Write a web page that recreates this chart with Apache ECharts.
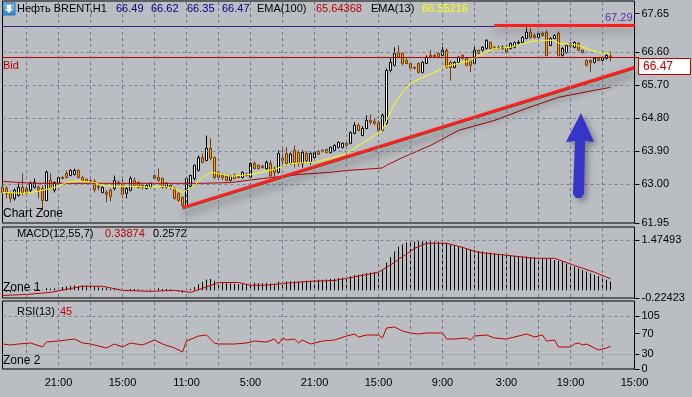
<!DOCTYPE html>
<html><head><meta charset="utf-8">
<script src="https://cdn.jsdelivr.net/npm/echarts@6/dist/echarts.min.js"></script>
<style>html,body{margin:0;padding:0;background:#babec3;}#c{width:692px;height:397px;}</style>
</head><body><div id="c"></div>
<script>
const timeLabels = ['21:00','15:00','11:00','5:00','21:00','15:00','9:00','3:00','19:00','15:00'];
const opens = [62.92,62.89,62.76,62.62,62.70,62.92,62.89,62.84,62.92,62.92,
62.89,62.56,63.11,62.84,63.03,63.19,63.30,63.24,63.27,63.38,
63.19,63.14,63.11,63.08,62.95,62.78,62.78,62.84,62.89,63.05,
63.00,62.76,62.84,63.11,63.05,62.97,62.89,62.92,63.24,63.19,
63.16,62.92,62.97,62.89,62.76,62.65,62.43,62.95,63.16,63.38,
63.73,63.65,63.98,63.73,63.33,63.24,63.22,63.11,63.24,63.22,
63.19,63.27,63.19,63.57,63.52,63.49,63.43,63.57,63.43,63.33,
63.71,63.84,63.57,63.93,63.87,63.57,63.84,63.60,63.73,63.90,
63.93,63.95,63.87,63.93,64.01,64.01,64.12,64.12,64.39,64.61,
64.33,64.52,64.74,64.71,64.69,64.47,64.66,66.10,66.24,66.59,
66.56,66.37,66.29,66.18,66.29,66.05,66.29,66.51,66.51,66.56,
66.51,66.65,66.32,66.18,66.32,66.51,66.43,66.37,66.29,66.65,
66.65,66.70,66.86,66.73,66.73,66.70,66.73,66.70,66.73,66.84,
66.86,66.97,67.14,67.05,67.00,67.11,67.14,66.78,66.97,67.11,
66.51,66.59,66.84,66.73,66.84,66.65,66.37,66.37,66.32,66.43,
66.37,66.43,66.49];
const closes = [62.78,62.76,62.62,62.84,62.92,62.78,62.76,63.03,63.05,62.84,
62.56,63.33,62.89,63.05,63.19,63.16,63.19,63.38,63.38,63.19,
63.11,63.08,63.08,62.86,62.92,62.92,62.73,62.67,63.11,63.00,
62.73,62.89,63.16,62.97,62.92,62.92,62.97,63.03,63.16,63.11,
62.92,63.03,62.92,62.62,62.56,62.43,63.16,63.24,63.52,63.73,
63.60,63.98,63.71,63.19,63.19,63.19,63.11,63.22,63.16,63.19,
63.33,63.24,63.57,63.43,63.43,63.46,63.60,63.24,63.33,63.84,
63.65,63.57,63.82,63.60,63.57,63.87,63.65,63.84,63.87,63.82,
63.90,63.87,64.01,64.06,64.14,64.12,64.06,64.41,64.61,64.47,
64.52,64.74,64.69,64.66,64.47,64.88,66.10,66.32,66.56,66.46,
66.29,66.29,66.16,66.16,66.05,66.32,66.46,66.46,66.48,66.46,
66.65,66.18,66.18,66.32,66.46,66.43,66.24,66.24,66.65,66.56,
66.73,66.92,66.70,66.70,66.70,66.73,66.59,66.84,66.86,66.86,
67.00,67.14,67.00,67.00,67.11,67.05,66.51,66.97,67.05,66.51,
66.70,66.78,66.76,66.86,66.65,66.59,66.24,66.32,66.43,66.37,
66.46,66.51,66.47];
const lows = [62.73,62.62,62.51,62.56,62.67,62.70,62.70,62.78,62.89,62.62,
62.29,62.54,62.86,62.78,63.00,63.14,63.16,63.22,63.24,63.16,
63.08,63.05,63.05,62.78,62.84,62.76,62.51,62.54,62.84,62.95,
62.62,62.62,62.81,62.95,62.89,62.86,62.86,62.89,63.14,63.08,
62.89,62.89,62.86,62.59,62.54,62.37,62.37,62.89,63.11,63.35,
63.57,63.63,63.65,63.14,63.11,63.11,63.08,63.08,63.14,63.16,
63.16,63.22,63.16,63.41,63.41,63.43,63.41,63.19,63.19,63.30,
63.52,63.49,63.54,63.46,63.49,63.46,63.57,63.54,63.71,63.79,
63.87,63.84,63.84,63.90,63.98,63.98,64.03,64.09,64.36,64.44,
64.31,64.50,64.63,64.61,64.41,64.44,64.63,66.05,66.21,66.43,
66.24,66.27,66.10,66.13,66.02,66.02,66.27,66.43,66.46,66.43,
66.48,66.16,65.83,66.16,66.29,66.40,66.21,66.05,66.27,66.54,
66.62,66.67,66.67,66.67,66.67,66.67,66.56,66.67,66.70,66.81,
66.84,66.95,66.97,66.97,66.97,67.03,66.48,66.76,66.95,66.48,
66.48,66.56,66.70,66.70,66.62,66.56,66.21,66.05,66.29,66.35,
66.35,66.40,66.35];
const highs = [62.97,62.95,62.81,62.89,63.03,63.30,62.95,63.08,63.16,62.97,
62.97,63.38,63.30,63.08,63.22,63.22,63.38,63.41,63.43,63.41,
63.22,63.16,63.14,63.14,63.03,62.95,62.84,62.89,63.24,63.11,
63.16,62.92,63.22,63.19,63.08,63.03,63.00,63.05,63.27,63.43,
63.19,63.05,63.00,62.92,62.78,62.67,63.19,63.27,63.54,63.79,
63.84,64.33,64.25,63.76,63.38,63.30,63.27,63.24,63.30,63.24,
63.35,63.33,63.60,63.63,63.54,63.54,63.65,63.65,63.49,63.93,
63.98,64.01,63.87,64.06,63.93,63.93,63.90,63.87,63.90,63.93,
63.95,63.98,64.03,64.09,64.17,64.14,64.17,64.44,64.69,64.66,
64.58,64.88,64.90,64.80,64.74,64.93,66.16,66.43,66.73,66.78,
66.59,66.43,66.32,66.21,66.32,66.35,66.51,66.65,66.54,66.59,
66.84,66.70,66.37,66.35,66.48,66.54,66.46,66.40,66.78,66.67,
66.76,66.95,66.89,66.76,66.78,66.78,66.76,66.86,66.89,66.92,
67.03,67.27,67.25,67.11,67.16,67.16,67.19,67.00,67.08,67.16,
66.73,66.81,66.86,66.89,66.86,66.67,66.40,66.40,66.46,66.46,
66.48,66.56,66.62];
const ema13 = [[0,62.78],[5,62.76],[7,62.78],[10,62.84],[13,62.92],[16,63.05],[19,63.10],[23,63.05],[25,62.97],[28,62.95],[33,62.95],[37,62.92],[40,62.95],[43,62.89],[45,62.78],[48,62.97],[50,63.19],[52,63.33],[54,63.30],[57,63.22],[62,63.27],[68,63.41],[72,63.57],[78,63.60],[82,63.71],[86,63.84],[89,64.06],[93,64.33],[95,64.47],[96,64.74],[98,65.20],[100,65.50],[102,65.75],[105,65.91],[109,66.10],[111,66.21],[114,66.29],[117,66.37],[119,66.51],[123,66.70],[127,66.73],[131,66.86],[134,66.92],[138,66.92],[139,66.84],[142,66.81],[144,66.78],[146,66.70],[149,66.59],[152,66.55]];
const ema100 = [[0,63.08],[8,63.03],[25,63.03],[41,63.03],[50,63.03],[57,63.05],[65,63.16],[72,63.24],[74,63.27],[82,63.33],[86,63.38],[93,63.43],[95,63.45],[96,63.52],[100,63.73],[107,64.06],[114,64.47],[123,64.74],[131,65.07],[139,65.37],[148,65.56],[152,65.64]];
const macdHist = [-0.06,-0.05,-0.06,-0.04,-0.02,-0.03,-0.02,
0.02,0.04,0.03,0.01,0.06,0.05,0.06,0.08,
0.10,0.11,0.13,0.14,0.13,
0.14,0.14,0.13,0.11,0.09,
0.08,0.06,0.04,0.05,
0.05,0.03,0.02,0.04,0.04,0.03,0.02,0.02,0.03,
0.05,0.06,0.04,0.04,0.03,0.00,
-0.03,-0.06,-0.02,0.04,0.10,0.18,
0.25,0.32,0.33,0.28,
0.25,0.23,0.21,0.20,0.19,0.18,
0.18,0.18,0.21,0.22,0.21,0.21,0.22,0.20,
0.20,0.25,0.26,0.26,0.27,0.27,0.26,
0.27,0.28,0.28,0.30,0.31,0.31,0.32,0.33,0.34,0.36,0.37,0.37,
0.41,0.45,0.46,0.48,0.51,0.52,0.53,0.52,
0.60,0.82,0.98,1.15,1.28,
1.35,1.40,1.42,1.43,1.44,1.44,1.44,1.44,1.43,1.43,1.42,
1.38,1.35,1.32,1.29,1.27,
1.24,1.20,1.18,1.16,1.14,
1.12,1.10,1.08,1.07,1.06,
1.04,1.02,1.01,1.00,0.99,
0.99,0.98,0.97,0.96,0.95,0.93,0.92,
0.89,0.86,0.83,
0.78,0.74,0.70,
0.65,0.60,0.55,
0.50,0.46,0.42,
0.36,0.31,0.26];
const macdSignal = [[0,-0.15],[6,-0.12],[12,-0.06],[20,0.12],[25,0.12],[30,0.0],[37,-0.03],[43,0.0],[47,-0.06],[50,0.06],[54,0.23],[59,0.23],[62,0.15],[66,0.15],[70,0.2],[76,0.26],[83,0.29],[86,0.35],[94,0.53],[98,0.82],[103,1.23],[106,1.38],[111,1.38],[115,1.26],[119,1.11],[126,1.03],[133,0.94],[138,0.94],[143,0.73],[148,0.53],[152,0.34]];
const rsi = [[0,49.5],[2,47.5],[4,49.5],[7,51.5],[10,43.6],[11,53.5],[14,55.4],[18,59.4],[20,51.5],[22,49.5],[24,45.5],[26,41.6],[28,49.5],[30,43.6],[32,51.5],[35,47.5],[38,57.4],[40,49.5],[43,41.6],[45,33.7],[46,55.4],[49,65.3],[51,67.3],[53,51.5],[54,49.5],[58,49.5],[61,51.5],[63,55.4],[66,53.5],[68,59.4],[69,49.5],[70,61.4],[71,57.4],[73,59.4],[74,51.5],[75,57.4],[77,49.5],[80,55.4],[83,57.4],[86,65.3],[88,69.3],[89,63.4],[91,67.3],[94,67.3],[95,61.4],[96,81.2],[98,83.2],[100,75.2],[102,71.3],[104,69.3],[106,71.3],[110,71.3],[111,59.4],[113,59.4],[116,61.4],[117,57.4],[118,65.3],[121,67.3],[123,61.4],[126,59.4],[129,65.3],[131,69.3],[133,63.4],[135,67.3],[136,55.4],[138,57.4],[139,43.6],[142,43.6],[143,49.5],[144,51.5],[145,47.5],[146,49.5],[148,41.6],[149,37.6],[151,41.6],[152,45]];
const priceTicks = [61.95,63.00,63.90,64.80,65.70,66.60,67.65];
const priceGridLevels = [63.00,63.90,64.80,65.70,66.60];
const macdTicks = [-0.22423,1.47493];
const rsiTicks = [0,30,70,105];
const bidPrice = 66.47;
const levelPrice = 67.29;
const resistance = {from:123, to:158, price:67.32};
const trend = {from:[45,62.37], to:[158,66.18]};
const headerOHLC = ['66.49','66.62','66.35','66.47'];

const NCAT = 159;
const categories = Array.from({length:NCAT},(_,i)=>String(i));
const candles = opens.map((o,i)=>[o, closes[i], lows[i], highs[i]]);
const vGrid = [];
for (let i = 6; i < 158; i += 8) vGrid.push(i);
const FONT = '"Liberation Sans", Arial, sans-serif';
const GRIDC = '#7a8696';
const ranges = [[61.95, 67.99], [-0.22423, 1.8578], [0, 134.65]];
const GRID_LEFT = 2.5, GRID_W = 632;

const chart = echarts.init(document.getElementById('c'), null, {renderer:'canvas'});
function xAxisFor(gi){
  return {
    type:'category', gridIndex:gi, data:categories, boundaryGap:false,
    axisLine:{show:false}, axisTick:{show:false},
    axisLabel:{show: gi===2, interval:(i)=> i>=14 && (i-14)%16===0,
      formatter:(v,i)=> timeLabels[Math.round((i-14)/16)] || '',
      color:'#000', fontSize:11, fontFamily:FONT, margin:8},
    splitLine:{show:false}, splitArea:{show:false}
  };
}
function yAxisFor(gi, ticks, fmt){
  return {
    type:'value', gridIndex:gi, position:'right', min:ranges[gi][0], max:ranges[gi][1], scale:true,
    splitLine:{show:false}, splitArea:{show:false}, axisLine:{show:false},
    axisTick:{show:true, customValues:ticks, length:5, lineStyle:{color:'#000'}},
    axisLabel:{customValues:ticks, formatter:fmt, color:'#000', fontSize:11, fontFamily:FONT, margin:7}
  };
}
const noSym = {symbol:['none','none'], silent:true, animation:false};
function hLines(gi, levels){
  return {type:'line', xAxisIndex:gi, yAxisIndex:gi, data:[], z:1,
    markLine:Object.assign({}, noSym, {label:{show:false},
      lineStyle:{color:GRIDC, type:[3,3], width:1},
      data: levels})};
}
const txt = (x,y,t,fill,size)=>({type:'text', x:x, y:y, z:100, silent:true,
  style:{text:t, fill:fill||'#000', font:(size||11)+'px '+FONT, verticalAlign:'middle'}});

chart.setOption({
  animation:false,
  backgroundColor:'#babec3',
  grid:[
    {left:GRID_LEFT, top:1, width:GRID_W, height:222, show:true, borderColor:'#000', borderWidth:1, backgroundColor:'transparent'},
    {left:GRID_LEFT, top:227, width:GRID_W, height:71, show:true, borderColor:'#000', borderWidth:1, backgroundColor:'transparent'},
    {left:GRID_LEFT, top:301, width:GRID_W, height:68, show:true, borderColor:'#000', borderWidth:1, backgroundColor:'transparent'}
  ],
  xAxis:[xAxisFor(0), xAxisFor(1), xAxisFor(2)],
  yAxis:[
    yAxisFor(0, priceTicks, v=>v.toFixed(2)),
    yAxisFor(1, macdTicks, v=>v.toFixed(5)),
    yAxisFor(2, rsiTicks, v=>String(Math.round(v)))
  ],
  series:[
    hLines(0, priceGridLevels.map(v=>({yAxis:v}))),
    {type:'candlestick', xAxisIndex:0, yAxisIndex:0, data:candles, barWidth:3, z:3,
      itemStyle:{color:'#ffffff', color0:'#f0a30a', borderColor:'#000000', borderColor0:'#7a3a08', borderWidth:1}},
    {type:'line', xAxisIndex:0, yAxisIndex:0, data:ema100, showSymbol:false, z:4,
      lineStyle:{color:'#b00000', width:1}},
    {type:'line', xAxisIndex:0, yAxisIndex:0, data:ema13, showSymbol:false, z:5,
      lineStyle:{color:'#ffff00', width:1}},
    {type:'line', xAxisIndex:0, yAxisIndex:0, data:[], z:6,
      markLine:Object.assign({}, noSym, {label:{show:false}, data:[
        {yAxis:levelPrice, lineStyle:{color:'#3a1c8c', width:1, type:'solid'},
          label:{show:true, position:'insideEndTop', formatter:'67.29', color:'#5a2bb0', fontSize:11, fontFamily:FONT, distance:[2,3]}},
        {yAxis:bidPrice, lineStyle:{color:'#c00000', width:1, type:'solid'}},
        [{coord:[trend.from[0], trend.from[1]-0.04], lineStyle:{color:'#1f7a1f', width:1, type:'solid'}},{coord:[trend.to[0], trend.to[1]-0.04]}],
        [{coord:trend.from, lineStyle:{color:'#ff1e1e', width:3, type:'solid', shadowColor:'rgba(0,0,0,0.45)', shadowBlur:8, shadowOffsetY:6}},{coord:trend.to}],
        [{coord:[resistance.from, resistance.price], lineStyle:{color:'#ff1e1e', width:3, type:'solid', shadowColor:'rgba(0,0,0,0.35)', shadowBlur:8, shadowOffsetY:5}},{coord:[resistance.to, resistance.price]}]
      ]})},
    hLines(1, [{yAxis:macdTicks[1]}]),
    {type:'bar', xAxisIndex:1, yAxisIndex:1, data:macdHist, barWidth:1, z:3, itemStyle:{color:'#000'}},
    {type:'line', xAxisIndex:1, yAxisIndex:1, data:macdSignal, showSymbol:false, z:4, lineStyle:{color:'#c00000', width:1}},
    hLines(2, [{yAxis:105}, {yAxis:30, lineStyle:{color:'#a4aab2', type:'solid', width:1}}]),
    {type:'line', xAxisIndex:2, yAxisIndex:2, data:rsi, showSymbol:false, z:4, lineStyle:{color:'#c00000', width:1}}
  ]
});

// vertical dashed grid lines, each dash a 1px rect, positioned through the axes' pixel mapping
const gridTops = [1, 227, 301], gridHeights = [222, 71, 68];
const vertical = [];
[0,1,2].forEach(gi=>{
  let top = chart.convertToPixel({yAxisIndex:gi}, ranges[gi][1]);
  let bot = chart.convertToPixel({yAxisIndex:gi}, ranges[gi][0]);
  if (!isFinite(top) || !isFinite(bot)) { top = gridTops[gi]; bot = gridTops[gi] + gridHeights[gi]; }
  vGrid.forEach(i=>{
    let x = chart.convertToPixel({xAxisIndex:gi}, i);
    if (!isFinite(x)) x = GRID_LEFT + i * GRID_W / (NCAT - 1);
    const xi = Math.floor(x);
    for (let y = top + 1; y < bot - 1; y += 6) {
      vertical.push({type:'rect', z:60, silent:true,
        shape:{x:xi, y:y, width:1, height:Math.min(3, bot - y)},
        style:{fill:'#6f7b8a'}});
    }
  });
});

chart.setOption({graphic: vertical.concat([
    {type:'rect', shape:{x:3, y:3, width:12, height:12}, z:100, silent:true,
      style:{fill:new echarts.graphic.LinearGradient(0,0,0,1,[{offset:0,color:'#8cc8f5'},{offset:1,color:'#2f7fcf'}]), stroke:'#2a6fb5', lineWidth:1}},
    {type:'polygon', shape:{points:[[7,5],[11,5],[11,9],[13,9],[9,13],[5,9],[7,9]]}, z:101, silent:true, style:{fill:'#fff'}},
    txt(17,9,'Нефть BRENT,H1'),
    txt(116,9,headerOHLC[0],'#000080'),
    txt(151,9,headerOHLC[1],'#000080'),
    txt(187,9,headerOHLC[2],'#000080'),
    txt(222,9,headerOHLC[3],'#000080'),
    txt(257,9,'EMA(100)'),
    txt(316,9,'65.64368','#c00000'),
    txt(371,9,'EMA(13)'),
    txt(422,9,'66.55216','#ffff00'),
    txt(3,66,'Bid','#c00000'),
    txt(3,214,'Chart Zone','#000',12),
    txt(17,234,'MACD(12,55,7)'),
    txt(105,234,'0.33874','#c00000'),
    txt(153,234,'0.2572'),
    txt(3,288,'Zone 1','#000',12),
    txt(17,312,'RSI(13)'),
    txt(60,312,'45','#c00000'),
    txt(3,361,'Zone 2','#000',12),
    {type:'line', shape:{x1:634, y1:57.5, x2:639, y2:57.5}, z:99, silent:true, style:{stroke:'#c00000', lineWidth:1}},
    {type:'rect', shape:{x:638.5, y:58.5, width:52, height:16}, z:100, silent:true, style:{fill:'#fff', stroke:'#c00000', lineWidth:1}},
    txt(643,66.5,'66.47','#c00000',12),
    {type:'polygon', z:90, silent:true,
      shape:{points:[[581,113],[594,142],[585,141],[584,194],[581,198],[576,198],[573,194],[575,141],[566,142]]},
      style:{fill:'#3535c9', shadowBlur:6, shadowColor:'rgba(0,0,0,0.35)', shadowOffsetX:3, shadowOffsetY:3}}
])});
</script></body></html>
